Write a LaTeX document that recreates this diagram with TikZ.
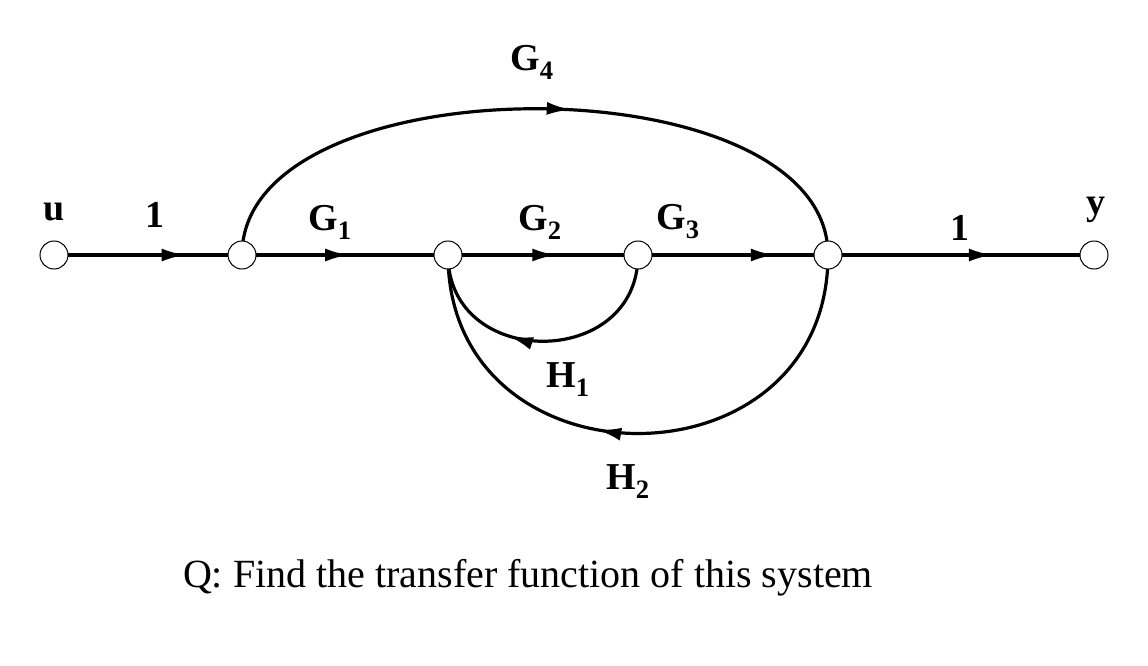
\documentclass[tikz,border=0pt]{standalone}
\usepackage{fontspec}
\setmainfont{Liberation Serif}
\usetikzlibrary{arrows.meta,decorations.markings}
\begin{document}
\begin{tikzpicture}[x=1pt,y=-1pt,
  nd/.style={circle,draw,line width=1pt,minimum size=28pt,inner sep=0pt,fill=white},
  br/.style={line width=3.2pt,postaction={decorate},decoration={markings,mark=at position #1 with {\arrow{Latex[length=24pt,width=13pt]}}}},
  lb/.style={font=\bfseries\fontsize{38}{38}\selectfont}]
\useasboundingbox (0,0) rectangle (1148,666);
\coordinate (a) at (54,255); \coordinate (b) at (242,255); \coordinate (c) at (448,255);
\coordinate (d) at (638,255); \coordinate (e) at (828,255); \coordinate (f) at (1094,255);
\draw[br=0.7] (a) -- (b);
\draw[br=0.52] (b) -- (c);
\draw[br=0.57] (c) -- (d);
\draw[br=0.72] (d) -- (e);
\draw[br=0.62] (e) -- (f);
\draw[br=0.55] (b) .. controls (242,60) and (828,60) .. (e);
\draw[br=0.62] (d) .. controls (638,370) and (448,370) .. (c);
\draw[br=0.57] (e) .. controls (828,493) and (448,493) .. (c);
\foreach \n in {a,b,c,d,e,f} \node[nd] (n\n) at (\n) {};
\node[lb] (lu) at (54,212) {u};
\node[lb] (l1) at (155,215) {1};
\node[lb] (lg1) at (330,222) {G\textsubscript{1}};
\node[lb] (lg2) at (540,222) {G\textsubscript{2}};
\node[lb] (lg3) at (678,222) {G\textsubscript{3}};
\node[lb] (l1b) at (960,228) {1};
\node[lb] (ly) at (1096,210) {y};
\node[lb] (lg4) at (532,62) {G\textsubscript{4}};
\node[lb] (lh1) at (568,380) {H\textsubscript{1}};
\node[lb] (lh2) at (628,482) {H\textsubscript{2}};
\node[font=\fontsize{40}{40}\selectfont] (q) at (528,578) {Q: Find the transfer function of this system};
\end{tikzpicture}
\end{document}
